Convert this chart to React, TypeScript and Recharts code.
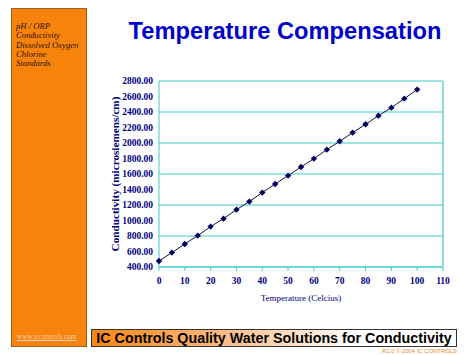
import React from 'react';
import {
  LineChart,
  Line,
  XAxis,
  YAxis,
  CartesianGrid,
  ReferenceLine,
} from 'recharts';

const temperatures = [0, 5, 10, 15, 20, 25, 30, 35, 40, 45, 50, 55, 60, 65, 70, 75, 80, 85, 90, 95, 100];
const conductivity = [
  477, 586, 697, 805, 921, 1024, 1140, 1244, 1360, 1471, 1579, 1690, 1798, 1914, 2022, 2134, 2241,
  2353, 2456, 2572, 2689,
];
const xTicks = [0, 10, 20, 30, 40, 50, 60, 70, 80, 90, 100, 110];
const yTicks = [400, 600, 800, 1000, 1200, 1400, 1600, 1800, 2000, 2200, 2400, 2600, 2800];
const sideTopics = ['pH / ORP', 'Conductivity', 'Dissolved Oxygen', 'Chlorine', 'Standards'];

const SERIF = '"Liberation Serif", "Times New Roman", serif';
const SANS = '"Liberation Sans", Arial, sans-serif';
const CYAN = '#3fcccc';
const NAVY = '#000080';

const chartData = temperatures.map((t, i) => ({ temp: t, value: conductivity[i] }));

const Diamond = (props: any) => {
  const { cx, cy } = props;
  if (cx == null || cy == null) return null;
  const r = 3.2;
  return (
    <path
      d={`M${cx},${cy - r}L${cx + r},${cy}L${cx},${cy + r}L${cx - r},${cy}Z`}
      fill="#000060"
      stroke="none"
    />
  );
};

const YLabel = (props: any) => {
  const { viewBox } = props;
  const x = viewBox.x + 15;
  const y = viewBox.y + viewBox.height / 2;
  return (
    <text
      x={x}
      y={y}
      transform={`rotate(-90 ${x} ${y})`}
      textAnchor="middle"
      dominantBaseline="central"
      fill={NAVY}
      fontFamily={SERIF}
      fontWeight="bold"
      fontSize={11.2}
    >
      Conductivity (microsiemens/cm)
    </text>
  );
};

export default function App() {
  const tickStyle = { fill: NAVY, fontFamily: SERIF, fontWeight: 'bold', fontSize: 9.5 };
  return (
    <div
      style={{
        position: 'absolute',
        left: 0,
        top: 0,
        width: 474,
        height: 355,
        background: '#fff',
        overflow: 'hidden',
      }}
    >
      {/* orange side panel */}
      <div
        style={{
          position: 'absolute',
          left: 11,
          top: 8,
          width: 74,
          height: 337,
          background: '#f7820c',
          border: '1px solid #a0601c',
        }}
      />
      <div
        style={{
          position: 'absolute',
          left: 16,
          top: 22,
          fontFamily: SERIF,
          fontStyle: 'italic',
          fontSize: 8.6,
          lineHeight: '9.3px',
          color: '#2a1606',
        }}
      >
        {sideTopics.map((t) => (
          <div key={t}>{t}</div>
        ))}
      </div>
      <div
        style={{
          position: 'absolute',
          left: 17,
          top: 333,
          fontFamily: SERIF,
          fontSize: 7.2,
          color: '#fbd2ac',
          textDecoration: 'underline',
        }}
      >
        www.iccontrols.com
      </div>

      {/* title */}
      <div
        style={{
          position: 'absolute',
          left: 100,
          width: 370,
          top: 18,
          textAlign: 'center',
          fontFamily: SANS,
          fontWeight: 'bold',
          fontSize: 23.7,
          color: '#0000cc',
          lineHeight: '27px',
        }}
      >
        Temperature Compensation
      </div>

      <div style={{ position: 'absolute', left: 100, top: 60 }}>
        <LineChart
          width={374}
          height={260}
          data={chartData}
          margin={{ top: 21, right: 31, left: 0, bottom: 19 }}
        >
          <CartesianGrid horizontal vertical={false} stroke={CYAN} strokeWidth={1.2} />
          <XAxis
            dataKey="temp"
            type="number"
            domain={[0, 110]}
            ticks={xTicks}
            height={34}
            stroke={CYAN}
            tickSize={4}
            tickMargin={6}
            tick={tickStyle}
            label={{
              value: 'Temperature (Celcius)',
              position: 'insideBottom',
              offset: 0,
              fill: NAVY,
              fontFamily: SERIF,
              fontSize: 9,
            }}
          />
          <YAxis
            type="number"
            domain={[400, 2800]}
            ticks={yTicks}
            width={59}
            stroke={CYAN}
            tickLine={false}
            tickSize={0}
            tickMargin={6}
            tick={tickStyle}
            tickFormatter={(v: number) => v.toFixed(2)}
            label={<YLabel />}
          />
          <ReferenceLine x={110} stroke={CYAN} strokeWidth={1.2} />
          <Line
            type="linear"
            dataKey="value"
            stroke="#101040"
            strokeWidth={1}
            dot={<Diamond />}
            isAnimationActive={false}
          />
        </LineChart>
      </div>

      {/* bottom banner */}
      <div
        style={{
          position: 'absolute',
          left: 91,
          top: 329,
          width: 364,
          height: 16,
          border: '1px solid #333',
          background: 'linear-gradient(to right, #f7860f 0%, #fbb880 35%, #ffffff 72%)',
          fontFamily: SANS,
          fontWeight: 'bold',
          fontSize: 14.3,
          lineHeight: '16px',
          textAlign: 'center',
          color: '#000',
          whiteSpace: 'nowrap',
        }}
      >
        IC Controls Quality Water Solutions for Conductivity
      </div>
      <div
        style={{
          position: 'absolute',
          right: 17,
          top: 348,
          fontFamily: SANS,
          fontSize: 5.9,
          color: '#e08a30',
          whiteSpace: 'nowrap',
        }}
      >
        R1.0 © 2004 IC CONTROLS
      </div>
    </div>
  );
}
